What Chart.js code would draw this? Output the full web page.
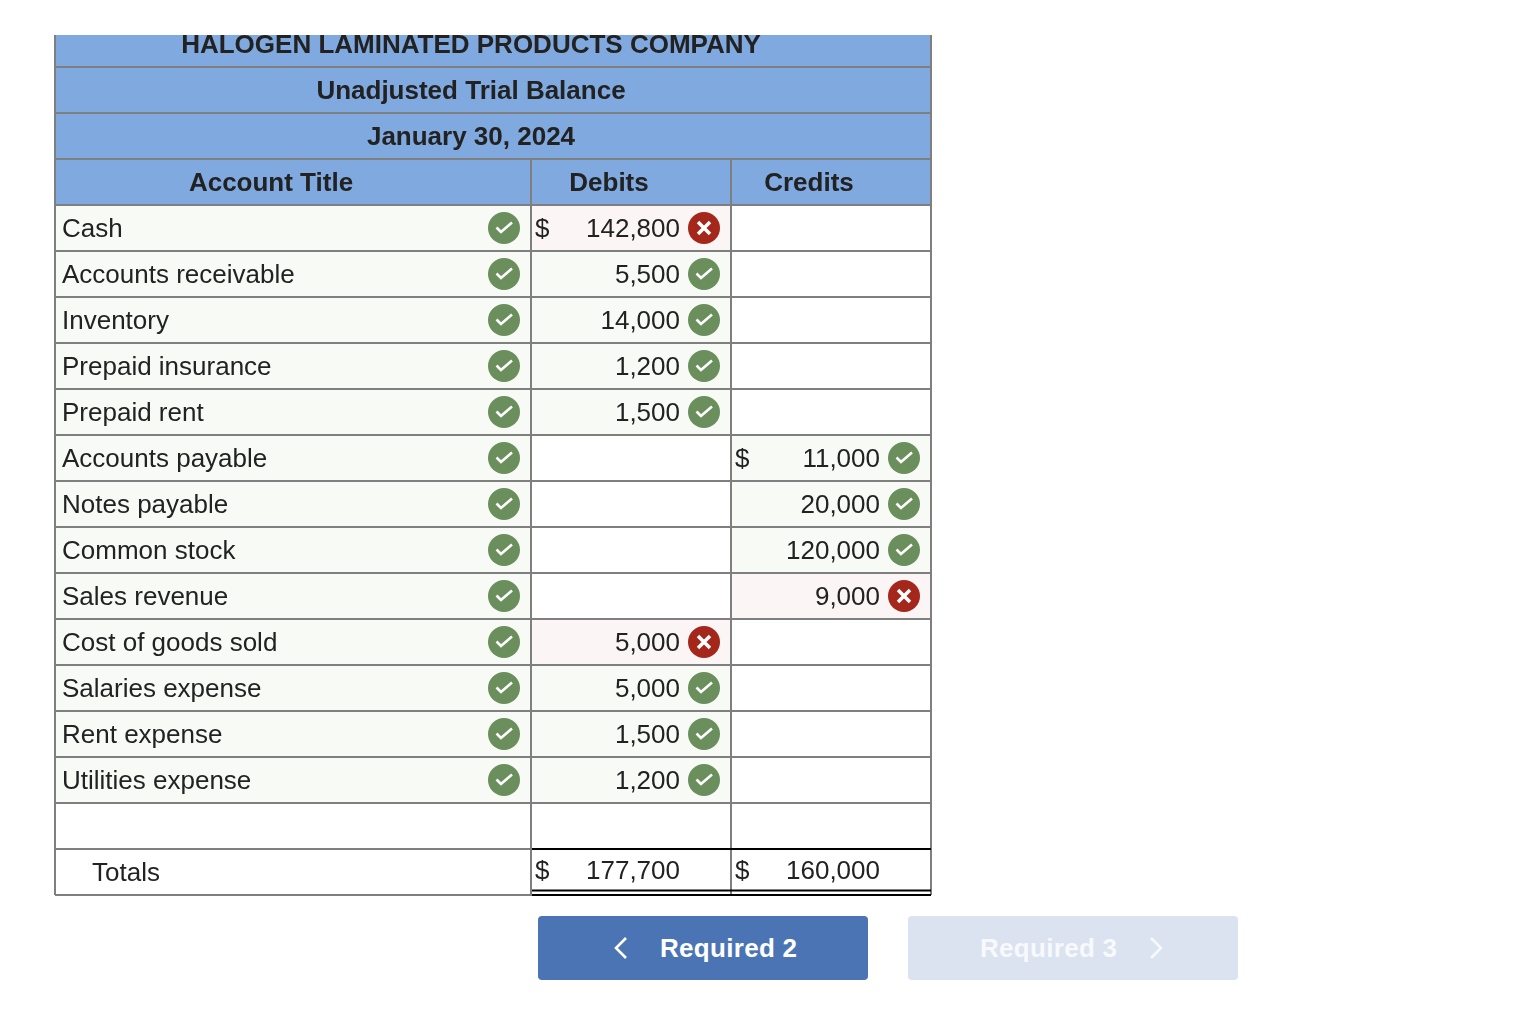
<!DOCTYPE html>
<html>
<head>
<meta charset="utf-8">
<title>Unadjusted Trial Balance</title>
<script src="https://cdn.jsdelivr.net/npm/chart.js@4"></script>
<style>
    body { margin: 0; background: #fff; font-family: "Liberation Sans", sans-serif; }
    #clip { position: absolute; left: 0; top: 35px; width: 1538px; height: 865px; overflow: hidden; }
    #table { position: absolute; left: 0; top: -35px; }
    .btn { position: absolute; top: 916px; width: 330px; height: 64px; border-radius: 4px; color: #fff; font-weight: bold; font-size: 26px; letter-spacing: 0.3px; }
    .btn span { position: absolute; top: 17px; line-height: 30px; white-space: nowrap; }
    .btn svg { position: absolute; top: 20px; }
    #prev { left: 538px; background: #4a74b4; }
    #next { left: 908px; background: #dae3ef; color: #f7f9fc; }
</style>
</head>
<body>
<div id="clip"><canvas id="table" width="1538" height="900"></canvas></div>
<div class="btn" id="prev">
    <svg width="16" height="24" style="left:75px"><path d="M13 2 L3 12 L13 22" fill="none" stroke="#fff" stroke-width="2.6"/></svg>
    <span style="left:122px">Required 2</span>
</div>
<div class="btn" id="next">
    <span style="left:72px">Required 3</span>
    <svg width="16" height="24" style="left:240px"><path d="M3 2 L13 12 L3 22" fill="none" stroke="#f7f9fc" stroke-width="2.6"/></svg>
</div>
<script>
// -------------------------------
//  DATA
// -------------------------------
const titleRows = ['HALOGEN LAMINATED PRODUCTS COMPANY', 'Unadjusted Trial Balance', 'January 30, 2024'];
const columnHeaders = ['Account Title', 'Debits', 'Credits'];
const accounts = ['Cash', 'Accounts receivable', 'Inventory', 'Prepaid insurance', 'Prepaid rent',
    'Accounts payable', 'Notes payable', 'Common stock', 'Sales revenue', 'Cost of goods sold',
    'Salaries expense', 'Rent expense', 'Utilities expense'];
const debits = [142800, 5500, 14000, 1200, 1500, null, null, null, null, 5000, 5000, 1500, 1200];
const credits = [null, null, null, null, null, 11000, 20000, 120000, 9000, null, null, null, null];
// 1 = marked correct, 0 = marked wrong, null = no mark
const accountMarks = [1, 1, 1, 1, 1, 1, 1, 1, 1, 1, 1, 1, 1];
const debitMarks = [0, 1, 1, 1, 1, null, null, null, null, 0, 1, 1, 1];
const creditMarks = [null, null, null, null, null, 1, 1, 1, 0, null, null, null, null];
const totalsLabel = 'Totals';
const totalDebits = 177700;
const totalCredits = 160000;

// -------------------------------
//  LAYOUT + THEME
// -------------------------------
const COL_EDGES = [0, 476, 676, 876];     // x scale runs in table units
const HEADER_CENTERS = [216, 554, 754];
const TITLE_CENTER = 416;
const TEXT_LEFT = 7;
const TOTALS_LEFT = 37;
const DOLLAR_X = [480, 680];
const AMOUNT_RIGHT = [625, 825];
const ICON_X = [449, 649, 849];

const COLORS = {
    header: '#7fa9df', line: '#7f7f7f', text: '#222222', black: '#000000',
    okCell: '#f7faf5', badCell: '#fbf5f5', blank: '#ffffff',
    ok: '#6a8f5d', bad: '#a5271c'
};
const BODY_FONT = '26px "Liberation Sans", sans-serif';
const BOLD_FONT = 'bold 26px "Liberation Sans", sans-serif';

const blankRow = ' ';
const rows = [...titleRows, columnHeaders[0], ...accounts, blankRow, totalsLabel];
const HEADER_COUNT = titleRows.length + 1;

function markIcon(color, width, draw) {
    const c = document.createElement('canvas');
    c.width = 32;
    c.height = 32;
    const g = c.getContext('2d');
    g.fillStyle = color;
    g.beginPath();
    g.arc(16, 16, 16, 0, Math.PI * 2);
    g.fill();
    g.strokeStyle = '#fff';
    g.lineWidth = width;
    g.beginPath();
    draw(g);
    g.stroke();
    return c;
}
const okIcon = markIcon(COLORS.ok, 2.6, g => { g.moveTo(8.5, 15.5); g.lineTo(13, 20); g.lineTo(24, 10.5); });
const badIcon = markIcon(COLORS.bad, 3.5, g => { g.moveTo(10, 10); g.lineTo(22, 22); g.moveTo(22, 10); g.lineTo(10, 22); });

// -------------------------------
//  DATASETS
// -------------------------------
function cellColors(marks) {
    const body = marks.map(m => m === 1 ? COLORS.okCell : m === 0 ? COLORS.badCell : COLORS.blank);
    return [...Array(HEADER_COUNT).fill(COLORS.header), ...body, COLORS.blank, COLORS.blank];
}

function columnDataset(label, col, marks) {
    return {
        type: 'bar',
        label: label,
        data: rows.map(() => [COL_EDGES[col], COL_EDGES[col + 1]]),
        backgroundColor: cellColors(marks),
        barPercentage: 1.0,
        categoryPercentage: 1.0,
        grouped: false,
        order: 2
    };
}

function markPoints(value) {
    const points = [];
    [accountMarks, debitMarks, creditMarks].forEach((marks, col) => {
        marks.forEach((m, i) => {
            if (m === value) points.push({ x: ICON_X[col], y: accounts[i] });
        });
    });
    return points;
}

function markDataset(label, value, icon) {
    return { type: 'scatter', label: label, data: markPoints(value), pointStyle: icon, pointRadius: 16, order: 1 };
}

// -------------------------------
//  TABLE TEXT + RULES PLUGIN
// -------------------------------
const tablePlugin = {
    id: 'tablePlugin',
    // afterDraw, because the row grid (z: 1) paints after the datasets
    afterDraw(chart) {
        const { ctx, scales: { x, y } } = chart;
        const rowH = y.getPixelForValue(1) - y.getPixelForValue(0);
        const rowY = i => y.getPixelForValue(i);
        const put = (text, unit, i, align, font, dy) => {
            ctx.font = font;
            ctx.textAlign = align;
            ctx.fillText(text, x.getPixelForValue(unit), rowY(i) + dy);
        };
        const rule = (color, x0, y0, x1, y1) => {
            ctx.strokeStyle = color;
            ctx.lineWidth = 2;
            ctx.beginPath();
            ctx.moveTo(x0, y0);
            ctx.lineTo(x1, y1);
            ctx.stroke();
        };

        ctx.save();

        // Vertical rules: the outer frame is full height, column rules start under the titles
        const headerTop = rowY(titleRows.length) - rowH / 2;
        const tableTop = rowY(0) - rowH / 2;
        const tableBottom = rowY(rows.length - 1) + rowH / 2;
        COL_EDGES.forEach((edge, k) => {
            const px = x.getPixelForValue(edge);
            const top = k === 0 || k === COL_EDGES.length - 1 ? tableTop : headerTop;
            rule(COLORS.line, px, top, px, tableBottom);
        });

        // Black total rules over the two amount columns
        const totalsIdx = rows.length - 1;
        const ruleL = x.getPixelForValue(COL_EDGES[1]) + 1;
        const ruleR = x.getPixelForValue(COL_EDGES[3]);
        const totalsTop = rowY(totalsIdx) - rowH / 2;
        rule(COLORS.black, ruleL, totalsTop, ruleR, totalsTop);
        rule(COLORS.black, ruleL, tableBottom - 4.5, ruleR, tableBottom - 4.5);
        rule(COLORS.black, ruleL, tableBottom, ruleR, tableBottom);

        // Text
        ctx.fillStyle = COLORS.text;
        ctx.textBaseline = 'middle';
        titleRows.forEach((t, i) => put(t, TITLE_CENTER, i, 'center', BOLD_FONT, 2));
        columnHeaders.forEach((t, k) => put(t, HEADER_CENTERS[k], titleRows.length, 'center', BOLD_FONT, 2));

        accounts.forEach((name, i) => {
            const row = i + HEADER_COUNT;
            put(name, TEXT_LEFT, row, 'left', BODY_FONT, 2);
            [debits, credits].forEach((col, k) => {
                if (col[i] === null) return;
                put(col[i].toLocaleString('en-US'), AMOUNT_RIGHT[k], row, 'right', BODY_FONT, 2);
                if (col.findIndex(v => v !== null) === i) put('$', DOLLAR_X[k], row, 'left', BODY_FONT, 2);
            });
        });

        put(totalsLabel, TOTALS_LEFT, totalsIdx, 'left', BODY_FONT, 2);
        [totalDebits, totalCredits].forEach((total, k) => {
            put('$', DOLLAR_X[k], totalsIdx, 'left', BODY_FONT, 0);
            put(total.toLocaleString('en-US'), AMOUNT_RIGHT[k], totalsIdx, 'right', BODY_FONT, 0);
        });

        ctx.restore();
    }
};

// -------------------------------
//  CHART
// -------------------------------
new Chart(document.getElementById('table'), {
    data: {
        labels: rows,
        datasets: [
            columnDataset(columnHeaders[0], 0, accountMarks),
            columnDataset(columnHeaders[1], 1, debitMarks),
            columnDataset(columnHeaders[2], 2, creditMarks),
            markDataset('Correct', 1, okIcon),
            markDataset('Wrong', 0, badIcon)
        ]
    },
    options: {
        indexAxis: 'y',
        responsive: false,
        animation: false,
        devicePixelRatio: 1,
        layout: { autoPadding: false, padding: { left: 55, right: 607, top: 21, bottom: 5 } },
        scales: {
            x: { type: 'linear', min: COL_EDGES[0], max: COL_EDGES[3], display: false },
            y: {
                type: 'category',
                offset: true,
                grid: { offset: true, color: COLORS.line, lineWidth: 2, drawTicks: false, z: 1 },
                border: { display: false },
                ticks: { display: false }
            }
        },
        plugins: { legend: { display: false }, tooltip: { enabled: false } }
    },
    plugins: [tablePlugin]
});
</script>
</body>
</html>
